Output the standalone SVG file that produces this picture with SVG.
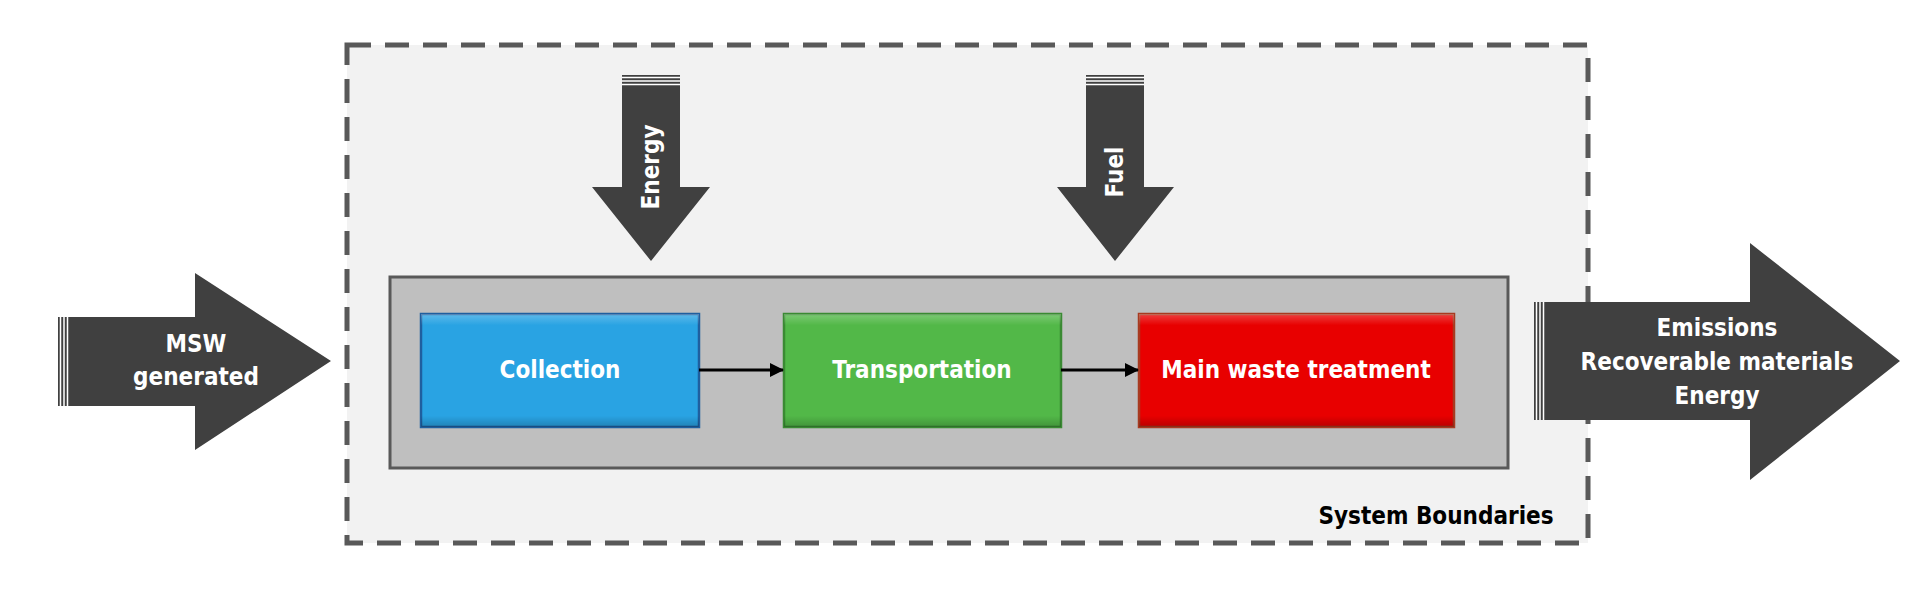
<svg xmlns="http://www.w3.org/2000/svg" width="1923" height="591" viewBox="0 0 1923 591">
<style>
.big{fill:#404040}
.t{font-family:"DejaVu Sans Condensed","Open Sans",sans-serif;font-weight:bold;fill:#fff;font-size:24px;text-anchor:middle}
.box{stroke-width:2.5}
.stripe{stroke:#fff;stroke-width:1.5}
</style>
<defs>
<marker id="ah" markerWidth="14" markerHeight="14" refX="13" refY="7" orient="auto" markerUnits="userSpaceOnUse"><path d="M0,0 L14,7 L0,14 z" fill="#000"/></marker>
<linearGradient id="g" x1="0" y1="0" x2="0" y2="1"><stop offset="0" stop-color="#fff" stop-opacity="0.25"/><stop offset="0.1" stop-color="#fff" stop-opacity="0"/><stop offset="0.9" stop-color="#000" stop-opacity="0"/><stop offset="1" stop-color="#000" stop-opacity="0.2"/></linearGradient>
</defs>
<rect width="1923" height="591" fill="#fff"/>
<g id="boundary">
<rect x="347" y="45" width="1241" height="498" fill="#f2f2f2" stroke="#595959" stroke-width="5" stroke-dasharray="24,14"/>
<text x="1436" y="524" font-family="DejaVu Sans Condensed,Open Sans,sans-serif" font-weight="bold" font-size="24" text-anchor="middle" fill="#000">System Boundaries</text>
</g>
<g id="process">
<rect x="390" y="277" width="1118" height="191" fill="#bfbfbf" stroke="#595959" stroke-width="3"/>
</g>
<g id="energy-in">
<path class="big" d="M622,75 H680 V187 H710 L651,261 L592,187 H622 Z"/>
<path class="stripe" d="M622,77.5 H680 M622,81 H680 M622,84.5 H680"/>
<text class="t" transform="translate(651,167) rotate(-90)" dy="8">Energy</text>
</g>
<g id="fuel-in">
<path class="big" d="M1086,75 H1144 V187 H1174 L1115,261 L1057,187 H1086 Z"/>
<path class="stripe" d="M1086,77.5 H1144 M1086,81 H1144 M1086,84.5 H1144"/>
<text class="t" transform="translate(1115,172) rotate(-90)" dy="8">Fuel</text>
</g>
<g id="msw">
<path class="big" d="M58,317 H195 V273 L331,361 L195,450 V406 H58 Z"/>
<path class="stripe" d="M60.5,317 V406 M64,317 V406 M67.5,317 V406"/>
<text class="t" x="196" y="352">MSW</text>
<text class="t" x="196" y="385">generated</text>
</g>
<g id="outputs">
<path class="big" d="M1534,302 H1750 V243 L1900,361 L1750,480 V420 H1534 Z"/>
<path class="stripe" d="M1536.5,302 V420 M1540,302 V420 M1543.5,302 V420"/>
<text class="t" x="1717" y="336">Emissions</text>
<text class="t" x="1717" y="370">Recoverable materials</text>
<text class="t" x="1717" y="404">Energy</text>
</g>
<g id="collection">
<rect class="box" x="421" y="314" width="278" height="113" fill="#29a3e3" stroke="#1f5f9f"/>
<rect x="421" y="314" width="278" height="113" fill="url(#g)"/>
<text class="t" x="560" y="378">Collection</text>
</g>
<g id="transportation">
<rect class="box" x="784" y="314" width="277" height="113" fill="#52b848" stroke="#3a8a33"/>
<rect x="784" y="314" width="277" height="113" fill="url(#g)"/>
<text class="t" x="922" y="378">Transportation</text>
</g>
<g id="treatment">
<rect class="box" x="1139" y="314" width="315" height="113" fill="#e80000" stroke="#a83a20"/>
<rect x="1139" y="314" width="315" height="113" fill="url(#g)"/>
<text class="t" x="1296" y="378">Main waste treatment</text>
</g>
<g id="connectors" stroke="#000" stroke-width="3">
<line x1="699" y1="370" x2="783" y2="370" marker-end="url(#ah)"/>
<line x1="1061" y1="370" x2="1138" y2="370" marker-end="url(#ah)"/>
</g>
</svg>
